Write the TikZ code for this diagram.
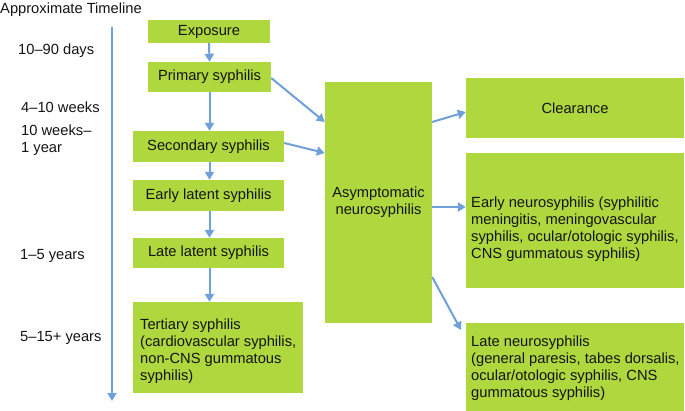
\documentclass[tikz,border=0pt]{standalone}
\usepackage{fontspec}
\setmainfont{Liberation Sans}
\usetikzlibrary{arrows.meta}
\definecolor{boxgreen}{RGB}{174,216,62}
\definecolor{arrblue}{RGB}{112,160,218}
\definecolor{txt}{RGB}{20,20,20}
\begin{document}
\begin{tikzpicture}[x=1pt,y=-1pt,
  every node/.style={font=\fontsize{14.7}{17}\selectfont, text=txt},
  gbox/.style={fill=boxgreen, draw=none, inner sep=0pt},
  conn/.style={draw=arrblue, line width=2pt, -{Triangle[width=9pt,length=8pt]}},
  tlabel/.style={anchor=west, inner sep=0pt}]
\useasboundingbox (0,0) rectangle (685,411);
\newcommand{\gboxat}[6]{%
  \node[gbox, minimum width=#4-#2, minimum height=#5-#3, align=center]
    (#1) at ({(#2+#4)/2},{(#3+#5)/2}) {#6};}
\gboxat{exp}{148}{20}{270}{43}{Exposure}
\gboxat{prim}{148}{62}{271}{92}{Primary syphilis}
\gboxat{sec}{133}{131}{284}{162}{Secondary syphilis}
\gboxat{el}{133}{180}{284}{211}{Early latent syphilis}
\gboxat{ll}{133}{238}{284}{268}{Late latent syphilis}
\node[gbox, minimum width=170, minimum height=91] (ter) at (218,347.5) {};
\node[anchor=west, align=left, inner sep=0pt] (tertxt) at (140,351)
  {Tertiary syphilis\\(cardiovascular syphilis,\\non-CNS gummatous\\syphilis)};
\gboxat{asym}{325}{82}{432}{323}{Asymptomatic\\neurosyphilis}
\gboxat{clr}{466}{78}{684}{138}{Clearance}
\node[gbox, minimum width=218, minimum height=135] (en) at (575,220.5) {};
\node[anchor=west, align=left, inner sep=0pt] (entxt) at (471,229)
  {Early neurosyphilis (syphilitic\\meningitis, meningovascular\\syphilis, ocular/otologic syphilis,\\CNS gummatous syphilis)};
\node[gbox, minimum width=218, minimum height=88] (ln) at (575,367) {};
\node[anchor=west, align=left, inner sep=0pt] (lntxt) at (471,368)
  {Late neurosyphilis\\(general paresis, tabes dorsalis,\\ocular/otologic syphilis, CNS\\gummatous syphilis)};
% timeline
\node[anchor=west, inner sep=0pt] (title) at (0,10) {Approximate Timeline};
\coordinate (ttop) at (112,27);
\coordinate (tbot) at (112,401);
\draw[conn] (ttop) -- (tbot);
\node[tlabel] (t1) at (18,51) {10–90 days};
\node[tlabel] (t2) at (21,107) {4–10 weeks};
\node[tlabel, align=left] (t3) at (21,140) {10 weeks–\\1 year};
\node[tlabel] (t4) at (20,256) {1–5 years};
\node[tlabel] (t5) at (20,338) {5–15+ years};
% vertical arrows
\draw[conn] (exp.south) -- (prim.north);
\draw[conn] (prim.south) -- (sec.north -| prim.south);
\draw[conn] (sec.south -| prim.south) -- (el.north -| prim.south);
\draw[conn] (el.south -| prim.south) -- (ll.north -| prim.south);
\draw[conn] (ll.south -| prim.south) -- (ter.north -| prim.south);
% to asymptomatic
\draw[conn] (prim.east |- 0,78) -- (asym.west |- 0,122);
\draw[conn] (sec.east |- 0,143) -- (asym.west |- 0,153);
% from asymptomatic
\draw[conn] (asym.east |- 0,122) -- (clr.west |- 0,112);
\draw[conn] (asym.east |- 0,207) -- (en.west |- 0,207);
\draw[conn] (asym.east |- 0,277) -- (461,330);
\end{tikzpicture}
\end{document}
